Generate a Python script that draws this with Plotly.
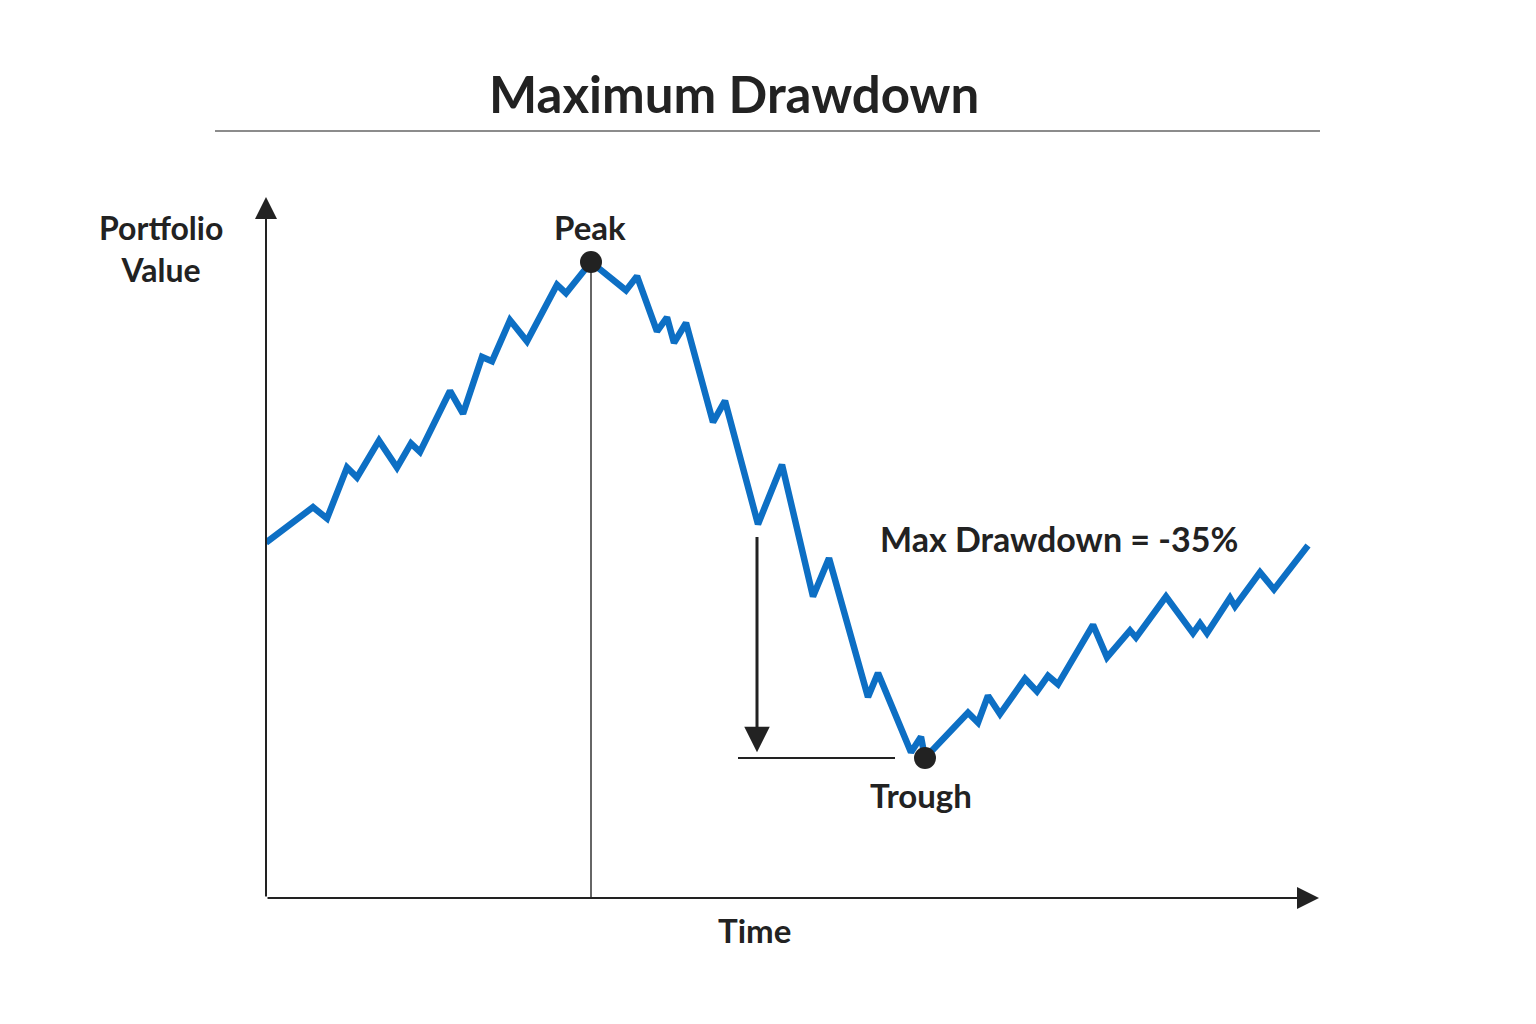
import plotly.graph_objects as go

# Time index and portfolio value (peak = 100, trough = 65 -> -35%)
time = [0.0, 4.7, 6.1, 8.1, 9.1, 11.3, 13.1, 14.5, 15.4, 18.4, 19.7, 21.6, 22.6, 24.4, 26.1,
        29.1, 30.0, 32.5, 36.0, 37.1, 39.1, 40.1, 40.8, 42.0, 44.7, 45.9, 49.2, 51.6, 54.7,
        56.3, 60.2, 61.2, 64.5, 65.5, 65.9, 70.2, 71.2, 72.2, 73.4, 75.9, 77.1, 78.2, 79.2,
        82.7, 84.1, 86.4, 87.0, 90.0, 92.7, 93.4, 94.1, 96.4, 96.9, 99.4, 100.8, 104.2]
value = [80.2, 82.7, 81.9, 85.5, 84.8, 87.4, 85.5, 87.2, 86.6, 90.9, 89.3, 93.3, 93.0, 95.9, 94.4,
         98.4, 97.8, 100.0, 98.0, 99.0, 95.1, 96.1, 94.3, 95.7, 88.7, 90.2, 81.5, 85.7, 76.4,
         79.1, 69.3, 71.0, 65.4, 66.5, 65.0, 68.2, 67.5, 69.4, 68.1, 70.6, 69.7, 70.8, 70.2,
         74.4, 72.1, 74.0, 73.5, 76.4, 73.8, 74.5, 73.8, 76.3, 75.7, 78.1, 76.9, 80.0]

peak_t, peak_v = 32.5, 100.0
trough_t, trough_v = 65.9, 65.0
drawdown_label = "Max Drawdown = -35%"

X_MIN, X_MAX = 0, 105
Y_MIN, Y_MAX = 55.12, 104.59

FONT = "Lato"
INK = "#222222"

fig = go.Figure()

fig.add_trace(go.Scatter(x=time, y=value, mode="lines",
                         line=dict(color="#0d6fc4", width=6.5, shape="linear"),
                         hoverinfo="skip", cliponaxis=False))

# Peak vertical line
fig.add_shape(type="line", x0=peak_t, x1=peak_t, y0=Y_MIN, y1=peak_v,
              xref="x", yref="y", line=dict(color="#333333", width=1.5), layer="below")
# Trough horizontal line
fig.add_shape(type="line", x0=47.2, x1=62.9, y0=trough_v, y1=trough_v,
              xref="x", yref="y", line=dict(color=INK, width=2))

fig.add_trace(go.Scatter(x=[peak_t, trough_t], y=[peak_v, trough_v], mode="markers",
                         marker=dict(color=INK, size=22), hoverinfo="skip", cliponaxis=False))

# Axes arrows
fig.add_annotation(x=X_MAX + 0.3, y=Y_MIN, ax=X_MIN, ay=Y_MIN, xref="x", yref="y", axref="x", ayref="y",
                   showarrow=True, arrowhead=2, arrowsize=2.2, arrowwidth=2, arrowcolor=INK, text="")
fig.add_annotation(x=X_MIN, y=Y_MAX, ax=X_MIN, ay=Y_MIN, xref="x", yref="y", axref="x", ayref="y",
                   showarrow=True, arrowhead=2, arrowsize=2.2, arrowwidth=2, arrowcolor=INK, text="")
# Drawdown arrow
fig.add_annotation(x=49.1, y=65.4, ax=49.1, ay=80.7, xref="x", yref="y", axref="x", ayref="y",
                   showarrow=True, arrowhead=2, arrowsize=1.7, arrowwidth=3, arrowcolor=INK, text="")

# Texts
def label(x, y, text, size, ref="paper", weight=700):
    fig.add_annotation(x=x, y=y, xref=ref if ref == "paper" else "x",
                       yref=ref if ref == "paper" else "y", text=text,
                       showarrow=False, xanchor="center", yanchor="middle",
                       font=dict(family=FONT, size=size, color=INK, weight=weight))

label(0.4457, 1.148, "Maximum Drawdown", 51)
fig.add_shape(type="line", x0=-0.0486, x1=1.0038, y0=1.0942, y1=1.0942, xref="paper", yref="paper",
              line=dict(color="#666666", width=1.5))
label(-0.1, 0.927, "Portfolio<br>Value", 32)
label(0.4657, -0.0456, "Time", 33)
label(32.4, 102.47, "Peak", 33, ref="data")
label(65.5, 62.39, "Trough", 33, ref="data")
label(79.3, 80.52, drawdown_label, 34, ref="data")

fig.update_layout(
    width=1536, height=1024, autosize=False,
    margin=dict(l=266, r=220, t=197, b=126, pad=0),
    paper_bgcolor="white", plot_bgcolor="white",
    showlegend=False,
    xaxis=dict(range=[X_MIN, X_MAX], visible=False, fixedrange=True),
    yaxis=dict(range=[Y_MIN, Y_MAX], visible=False, fixedrange=True),
)

fig.write_html("out.html", config={"displayModeBar": False})
